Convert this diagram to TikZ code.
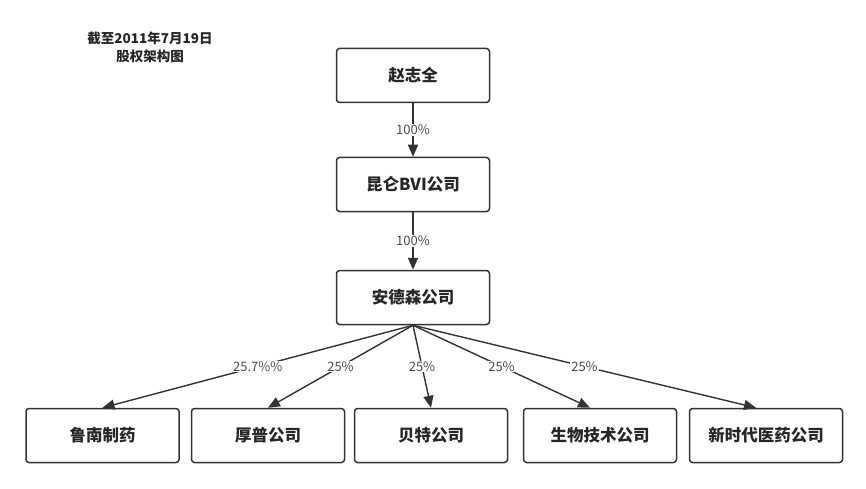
\documentclass[tikz,border=0pt]{standalone}
\usepackage{fontspec}
\setmainfont{Noto Sans CJK SC}
\usetikzlibrary{arrows.meta}

\begin{document}
\begin{tikzpicture}[x=1pt,y=-1pt,
        company/.style={draw=black!80, line width=1.5pt, rounded corners=3pt,
          minimum width=153pt, minimum height=54pt, text=black!85,
          font=\bfseries\fontsize{16.5}{19}\selectfont},
        share/.style={draw=black!80, line width=1.4pt,
          -{Triangle[length=12pt,width=10pt]}},
        pct/.style={fill=white, inner sep=1pt, text=black!70,
          font=\fontsize{13}{15}\selectfont}]
        \useasboundingbox (0,0) rectangle (866,489);
        %
        \node [align=center, text=black!85, font=\bfseries\fontsize{13.5}{18}\selectfont]
          (title) at (150,47) {截至2011年7月19日\\股权架构图};
        %
        \node [company] (zhao) at (413,75.5) {赵志全};
        \node [company] (kunlun) at (413,184.5) {昆仑BVI公司};
        \node [company] (anders) at (413,297.5) {安德森公司};
        %
        \node [company] (lunan) at (102.5,435.5) {鲁南制药};
        \node [company] (houpu) at (268,435.5) {厚普公司};
        \node [company] (beite) at (431,435.5) {贝特公司};
        \node [company] (shengwu) at (600,435.5) {生物技术公司};
        \node [company] (xinshidai) at (766,435.5) {新时代医药公司};
        %
        \draw [share] (zhao) -- node [pct] {100\%} (kunlun);
        \draw [share] (kunlun) -- node [pct] {100\%} (anders);
        %
        \draw [share] (anders.south) -- node [pct, pos=0.5] {25.7\%\%} (lunan.north);
        \draw [share] (anders.south) -- node [pct, pos=0.5] {25\%} (houpu.north);
        \draw [share] (anders.south) -- node [pct, pos=0.5] {25\%} (beite.north);
        \draw [share] (anders.south) -- node [pct, pos=0.5] {25\%} ([xshift=-10pt]shengwu.north);
        \draw [share] (anders.south) -- node [pct, pos=0.5] {25\%} ([xshift=-10pt]xinshidai.north);
      \end{tikzpicture}
\end{document}
